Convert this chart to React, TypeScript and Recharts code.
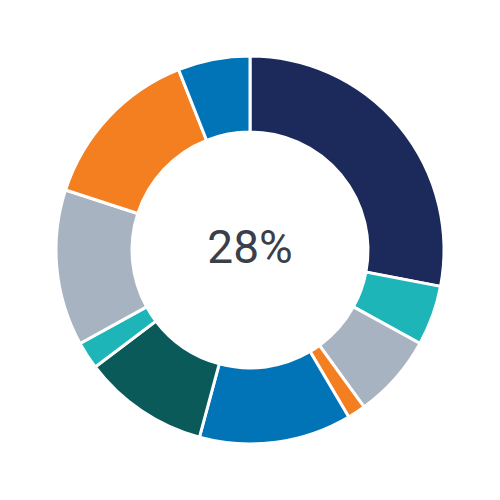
import { PieChart, Pie, Cell } from 'recharts';

const names = ['A', 'B', 'C', 'D', 'E', 'F', 'G', 'H', 'I', 'J'];
const values = [28, 5, 7, 1.5, 12.7, 10.5, 2.3, 13, 14, 6];
const COLORS = [
  '#1b2a5a',
  '#1db5b8',
  '#a8b3c2',
  '#f47f20',
  '#0074b7',
  '#0a5a5a',
  '#1db5b8',
  '#a8b3c2',
  '#f47f20',
  '#0074b7',
];
const centerLabel = '28%';

const data = names.map((name, i) => ({ name, value: values[i] }));

const App = () => (
  <div style={{ width: 500, height: 500, margin: -8 }}>
    <PieChart width={500} height={500} margin={{ top: 0, right: 0, bottom: 0, left: 0 }}>
      <Pie
        data={data}
        dataKey='value'
        cx={250}
        cy={250}
        innerRadius={118}
        outerRadius={194}
        startAngle={90}
        endAngle={-270}
        stroke='#ffffff'
        strokeWidth={3}
        isAnimationActive={false}
      >
        {data.map((d, i) => (
          <Cell key={d.name} fill={COLORS[i]} />
        ))}
      </Pie>
      <text
        x={250}
        y={247}
        textAnchor='middle'
        dominantBaseline='central'
        fontFamily='Roboto'
        fontSize={46}
        fill='#3a3f4a'
      >
        {centerLabel}
      </text>
    </PieChart>
  </div>
);

export default App;
